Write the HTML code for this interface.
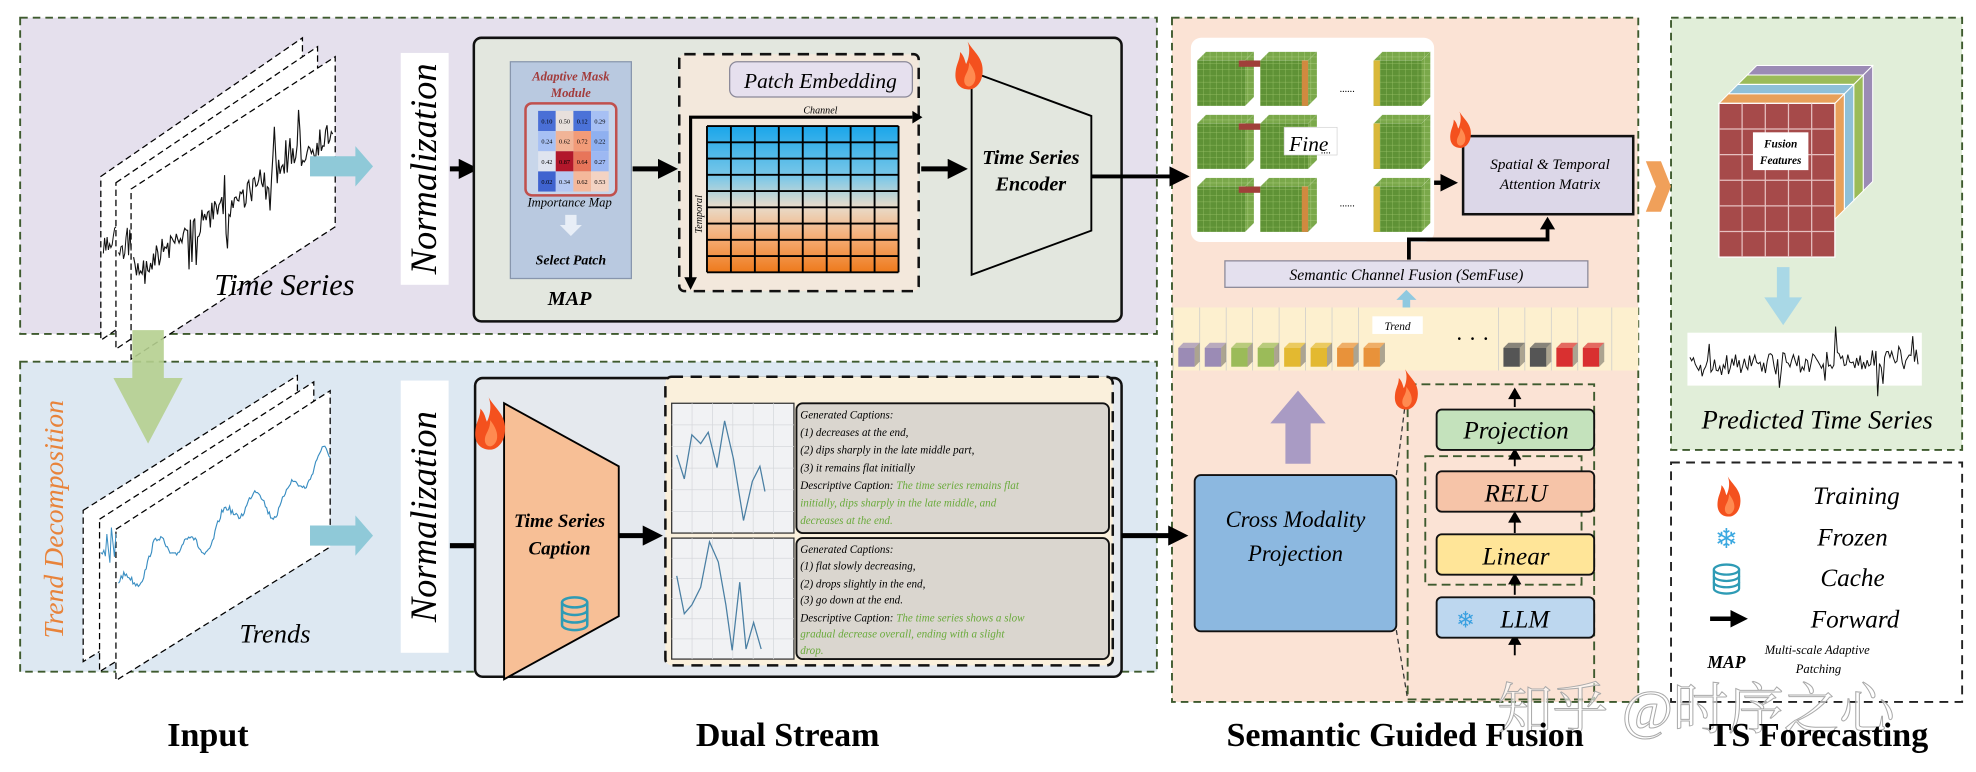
<!DOCTYPE html>
<html><head><meta charset="utf-8"><style>
html,body{margin:0;padding:0;background:#fff;}
svg{display:block;}
text{font-family:"Liberation Serif","Noto Serif CJK SC",serif;}
</style></head><body>
<svg id="s" width="1976" height="772" viewBox="0 0 1568 612.6" xmlns="http://www.w3.org/2000/svg">
<defs>
 <symbol id="fire" viewBox="0 0 20 32">
  <path d="M9,0 C13,7 20,11 19,21 C18.5,28 14,32 10,32 C4,32 0,28 1,20 C1.5,15 4,12 4,7 C7,10 7,13 8,15 C10,11 11,5 9,0Z" fill="#f4511e"/>
  <path d="M10,14 C13,18 15,22 14,26 C13,29 11,30 10,30 C8,30 6,28 7,24 C8,21 10,19 10,14Z" fill="#ff8a50"/>
 </symbol>
 <linearGradient id="pg" x1="0" y1="0" x2="0" y2="1">
  <stop offset="0" stop-color="#1aa6ea"/><stop offset="0.35" stop-color="#7cc8e8"/>
  <stop offset="0.55" stop-color="#e8dccb"/><stop offset="0.75" stop-color="#f5b07a"/><stop offset="1" stop-color="#ee7a1c"/>
 </linearGradient>
 <pattern id="gg" width="5" height="5" patternUnits="userSpaceOnUse"><rect width="5" height="5" fill="#5f9236"/><path d="M0,0H5M0,0V5" stroke="#9cc46a" stroke-width="0.6"/></pattern>
 <pattern id="gg2" width="5" height="5" patternUnits="userSpaceOnUse"><rect width="5" height="5" fill="#7aa84a"/><path d="M0,0H5M0,0V5" stroke="#b4d48a" stroke-width="0.6"/></pattern>
 <marker id="ah" markerWidth="4" markerHeight="4" refX="2" refY="2" orient="auto" markerUnits="strokeWidth"><path d="M0,0L4,2L0,4Z" fill="#000"/></marker>
</defs>

<!-- panels -->
<rect x="16" y="14" width="902" height="251" fill="#e5e0ed" stroke="#3e5a2e" stroke-width="1.5" stroke-dasharray="6,4"/>
<rect x="16" y="287" width="902" height="246" fill="#dde8f2" stroke="#3e5a2e" stroke-width="1.5" stroke-dasharray="6,4"/>
<rect x="930" y="14" width="370" height="543" fill="#fbe3d5" stroke="#3e5a2e" stroke-width="1.5" stroke-dasharray="6,4"/>
<rect x="1326" y="14" width="231" height="343" fill="#e1eed9" stroke="#3e5a2e" stroke-width="1.5" stroke-dasharray="6,4"/>
<rect x="1326" y="367" width="231" height="190" fill="#fff" stroke="#222" stroke-width="1.5" stroke-dasharray="7,5"/>

<!-- top: time series sheets -->
<g id="tsheets">
 <polygon points="80,140 240,30 240,160 80,270" fill="#fff" stroke="#000" stroke-width="1" stroke-dasharray="5,3"/>
 <polygon points="92,145 252,37 252,170 92,277" fill="#fff" stroke="#000" stroke-width="1" stroke-dasharray="5,3"/>
 <polygon points="104,150 266,45 266,180 104,285" fill="#fff" stroke="#000" stroke-width="1" stroke-dasharray="5,3"/>
</g>
<polyline id="ts1" fill="none" stroke="#111" stroke-width="0.9" points=""/>
<polyline id="ts1b" fill="none" stroke="#111" stroke-width="0.8" points=""/>
<polyline id="ts1c" fill="none" stroke="#111" stroke-width="0.8" points=""/>
<text x="170" y="234" font-size="24" font-style="italic">Time Series</text>
<polygon points="246,124 282,124 282,116 296,132 282,148 282,140 246,140" fill="#8fc9d8"/>

<!-- normalization top -->
<rect x="318" y="42" width="38" height="184" fill="#fff"/>
<text transform="translate(346,134) rotate(-90)" text-anchor="middle" font-size="29" font-style="italic">Normalization</text>
<line x1="357" y1="134" x2="372" y2="134" stroke="#000" stroke-width="4" marker-end="url(#ah)"/>

<!-- MAP block -->
<rect x="376" y="30" width="514" height="225" rx="6" fill="#e3e7df" stroke="#111" stroke-width="2"/>
<rect x="405" y="49" width="96" height="172" fill="#b9c9e0" stroke="#8896ad" stroke-width="1"/>
<text x="453" y="64" text-anchor="middle" font-size="10" font-style="italic" font-weight="bold" fill="#a23b3b">Adaptive Mask</text>
<text x="453" y="77" text-anchor="middle" font-size="10" font-style="italic" font-weight="bold" fill="#a23b3b">Module</text>
<rect x="417" y="82" width="72" height="73" rx="5" fill="#c8d6ea" stroke="#c0504d" stroke-width="2"/>
<g font-size="5" text-anchor="middle" font-family="Liberation Serif">
 <rect x="427" y="88" width="14" height="16" fill="#4a6fd6"/><rect x="441" y="88" width="14" height="16" fill="#e8e0dc"/><rect x="455" y="88" width="14" height="16" fill="#4b72d8"/><rect x="469" y="88" width="14" height="16" fill="#a7c0f4"/>
 <rect x="427" y="104" width="14" height="16" fill="#a7c0f4"/><rect x="441" y="104" width="14" height="16" fill="#f1b497"/><rect x="455" y="104" width="14" height="16" fill="#f29b78"/><rect x="469" y="104" width="14" height="16" fill="#8fb0f0"/>
 <rect x="427" y="120" width="14" height="16" fill="#dfe4ef"/><rect x="441" y="120" width="14" height="16" fill="#b2172b"/><rect x="455" y="120" width="14" height="16" fill="#e7755a"/><rect x="469" y="120" width="14" height="16" fill="#9db8f2"/>
 <rect x="427" y="136" width="14" height="16" fill="#3f63cf"/><rect x="441" y="136" width="14" height="16" fill="#b5c8f2"/><rect x="455" y="136" width="14" height="16" fill="#f4b89b"/><rect x="469" y="136" width="14" height="16" fill="#f3d3c3"/>
 <text x="434" y="98">0.10</text><text x="448" y="98">0.50</text><text x="462" y="98">0.12</text><text x="476" y="98">0.29</text>
 <text x="434" y="114">0.24</text><text x="448" y="114">0.62</text><text x="462" y="114">0.72</text><text x="476" y="114">0.22</text>
 <text x="434" y="130">0.42</text><text x="448" y="130">0.87</text><text x="462" y="130">0.64</text><text x="476" y="130">0.27</text>
 <text x="434" y="146">0.02</text><text x="448" y="146">0.34</text><text x="462" y="146">0.62</text><text x="476" y="146">0.53</text>
</g>
<text x="452" y="164" text-anchor="middle" font-size="10" font-style="italic">Importance Map</text>
<polygon points="448,170 458,170 458,178 463,178 453,188 443,178 448,178" fill="#e8eef7" stroke="#b9c9e0"/>
<text x="453" y="210" text-anchor="middle" font-size="11" font-style="italic" font-weight="bold">Select Patch</text>
<text x="452" y="242" text-anchor="middle" font-size="16" font-style="italic" font-weight="bold">MAP</text>
<line x1="502" y1="134" x2="530" y2="134" stroke="#000" stroke-width="4" marker-end="url(#ah)"/>

<!-- patch embedding -->
<rect x="539" y="43" width="190" height="188" rx="4" fill="#f3e8dc" stroke="#111" stroke-width="2" stroke-dasharray="9,6"/>
<rect x="579" y="49" width="145" height="28" rx="6" fill="#e6e0ee" stroke="#8a8898" stroke-width="1"/>
<text x="651" y="70" text-anchor="middle" font-size="17" font-style="italic">Patch Embedding</text>
<text x="651" y="90" text-anchor="middle" font-size="8" font-style="italic">Channel</text>
<rect x="561" y="100" width="152" height="116" fill="url(#pg)"/>
<g id="pgrid" stroke="#000" stroke-width="1.5" fill="none"></g>
<polyline points="548,222 548,93 724,93" fill="none" stroke="#000" stroke-width="2.5"/>
<polygon points="724,88 732,93 724,98" fill="#000"/>
<polygon points="543,220 553,220 548,230" fill="#000"/>
<text transform="translate(557,170) rotate(-90)" text-anchor="middle" font-size="8" font-style="italic">Temporal</text>
<line x1="731" y1="134" x2="760" y2="134" stroke="#000" stroke-width="4" marker-end="url(#ah)"/>

<!-- encoder -->
<polygon points="771,57 866,92 866,183 771,218" fill="#e3e7df" stroke="#000" stroke-width="1.5"/>
<use href="#fire" x="757" y="33" width="24" height="38"/>
<text x="818" y="130" text-anchor="middle" font-size="16" font-style="italic" font-weight="bold">Time Series</text>
<text x="818" y="151" text-anchor="middle" font-size="16" font-style="italic" font-weight="bold">Encoder</text>
<line x1="866" y1="140" x2="935" y2="140" stroke="#000" stroke-width="3"/>
<line x1="935" y1="140" x2="936" y2="140" stroke="#000" stroke-width="4" marker-end="url(#ah)"/>

<!-- trend decomposition arrow -->
<polygon points="105,262 130,262 130,300 145,300 117.5,352 90,300 105,300" fill="#b5cf8f" opacity="0.9"/>
<text transform="translate(50,412) rotate(-90)" text-anchor="middle" font-size="22" font-style="italic" fill="#e8833a">Trend Decomposition</text>

<!-- trend sheets -->
<polygon points="66,405 236,298 236,420 66,525" fill="#fff" stroke="#000" stroke-width="1" stroke-dasharray="5,3"/>
<polygon points="79,412 249,303 249,427 79,533" fill="#fff" stroke="#000" stroke-width="1" stroke-dasharray="5,3"/>
<polygon points="92,420 262,310 262,434 92,540" fill="#fff" stroke="#000" stroke-width="1" stroke-dasharray="5,3"/>
<polyline id="tr1" fill="none" stroke="#3a8ec2" stroke-width="0.9" points=""/>
<polyline id="tr2" fill="none" stroke="#3a8ec2" stroke-width="0.8" points=""/>
<text x="190" y="510" font-size="21" font-style="italic">Trends</text>
<polygon points="246,417 282,417 282,409 296,425 282,441 282,433 246,433" fill="#8fc9d8"/>

<!-- normalization bottom -->
<rect x="318" y="302" width="38" height="216" fill="#fff"/>
<text transform="translate(346,410) rotate(-90)" text-anchor="middle" font-size="29" font-style="italic">Normalization</text>
<line x1="357" y1="433" x2="386" y2="433" stroke="#000" stroke-width="4" marker-end="url(#ah)"/>

<!-- caption block -->
<rect x="377" y="300" width="513" height="237" rx="6" fill="#e5e9ee" stroke="#111" stroke-width="2"/>
<polygon points="400,326 491,376 491,495 400,545" fill="#f7bf96" stroke="#000" stroke-width="1.5" transform="translate(0,-6)"/>
<use href="#fire" x="376" y="313" width="26" height="46"/>
<text x="444" y="418" text-anchor="middle" font-size="15" font-style="italic" font-weight="bold">Time Series</text>
<text x="444" y="440" text-anchor="middle" font-size="15" font-style="italic" font-weight="bold">Caption</text>
<g fill="none" stroke="#2e9bb5" stroke-width="2">
 <ellipse cx="456" cy="478" rx="10" ry="4"/><path d="M446,478V496M466,478V496"/><path d="M446,484 A10,4 0 0 0 466,484M446,490 A10,4 0 0 0 466,490M446,496 A10,4 0 0 0 466,496"/>
</g>
<line x1="491" y1="425" x2="518" y2="425" stroke="#000" stroke-width="4" marker-end="url(#ah)"/>

<rect x="528" y="299" width="355" height="229" rx="5" fill="#faf0dc" stroke="#111" stroke-width="2" stroke-dasharray="9,6"/>
<!-- charts -->
<rect x="533" y="320" width="97" height="103" fill="#f1f2f4" stroke="#333" stroke-width="1"/>
<rect x="533" y="427" width="97" height="96" fill="#f1f2f4" stroke="#333" stroke-width="1"/>
<g stroke="#d6d8dc" stroke-width="0.6" id="cgrid"></g>
<polyline points="537,361 543,380 549,345 556,352 562,343 569,371 575,334 582,364 590,413 597,382 603,370 607,390" fill="none" stroke="#4a7fa3" stroke-width="1"/>
<polyline points="537,457 543,487 549,480 556,466 563,430 570,446 576,480 581,516 587,462 592,515 598,494 604,515" fill="none" stroke="#4a7fa3" stroke-width="1"/>
<rect x="632" y="320" width="248" height="103" rx="5" fill="#dad6cf" stroke="#111" stroke-width="1.5"/>
<rect x="632" y="427" width="248" height="96" rx="5" fill="#dad6cf" stroke="#111" stroke-width="1.5"/>
<g font-size="8.8" font-style="italic">
 <text x="635" y="332">Generated Captions:</text>
 <text x="635" y="346">(1) decreases at the end,</text>
 <text x="635" y="360">(2) dips sharply in the late middle part,</text>
 <text x="635" y="374">(3) it remains flat initially</text>
 <text x="635" y="388">Descriptive Caption: <tspan fill="#6aaa3c">The time series remains flat</tspan></text>
 <text x="635" y="402" fill="#6aaa3c">initially, dips sharply in the late middle, and</text>
 <text x="635" y="416" fill="#6aaa3c">decreases at the end.</text>
 <text x="635" y="439">Generated Captions:</text>
 <text x="635" y="452">(1) flat slowly decreasing,</text>
 <text x="635" y="466">(2) drops slightly in the end,</text>
 <text x="635" y="479">(3) go down at the end.</text>
 <text x="635" y="493">Descriptive Caption: <tspan fill="#6aaa3c">The time series shows a slow</tspan></text>
 <text x="635" y="506" fill="#6aaa3c">gradual decrease overall, ending with a slight</text>
 <text x="635" y="519" fill="#6aaa3c">drop.</text>
</g>
<line x1="890" y1="425" x2="935" y2="425" stroke="#000" stroke-width="4" marker-end="url(#ah)"/>

<!-- Semantic panel -->
<rect x="945" y="30" width="193" height="162" rx="8" fill="#fff"/>
<g id="cubes"></g>
<rect x="1019" y="101" width="42" height="22" fill="#fff" stroke="#ccc" stroke-width="0.5"/>
<text x="1023" y="120" font-size="17" font-style="italic">Fine</text>
<text x="1048" y="122" font-size="8">....</text>
<text x="1063" y="73" font-size="8">......</text>
<text x="1063" y="164" font-size="8">......</text>
<line x1="1138" y1="145" x2="1150" y2="145" stroke="#000" stroke-width="3.5" marker-end="url(#ah)"/>
<rect x="1161" y="108" width="135" height="62" fill="#dcd7e8" stroke="#111" stroke-width="2"/>
<use href="#fire" x="1150" y="88" width="18" height="30"/>
<text x="1230" y="134" text-anchor="middle" font-size="12" font-style="italic">Spatial &amp; Temporal</text>
<text x="1230" y="150" text-anchor="middle" font-size="12" font-style="italic">Attention Matrix</text>
<polyline points="1118,206 1118,190 1228,190 1228,180" fill="none" stroke="#000" stroke-width="3"/>
<polygon points="1222,182 1234,182 1228,172" fill="#000"/>
<rect x="972" y="207" width="288" height="21" fill="#e4e0ee" stroke="#8a8898" stroke-width="1"/>
<text x="1116" y="222" text-anchor="middle" font-size="12.5" font-style="italic">Semantic Channel Fusion (SemFuse)</text>
<polygon points="1113,245 1113,238 1108,238 1116,230 1124,238 1119,238 1119,245" fill="#8fc9e0"/>

<!-- token strip -->
<rect x="931" y="244" width="369" height="50" fill="#fdf0cf"/>
<g id="tokens"></g>
<rect x="1089" y="251" width="40" height="14" fill="#fff"/>
<text x="1109" y="262" text-anchor="middle" font-size="9" font-style="italic">Trend</text>
<text x="1155" y="275" font-size="18">· · ·</text>

<polygon points="1020,368 1020,336 1008,336 1030,310 1052,336 1040,336 1040,368" fill="#a99bc4"/>
<rect x="948" y="377" width="160" height="124" rx="5" fill="#8cb8e0" stroke="#111" stroke-width="1.5"/>
<text x="1028" y="418" text-anchor="middle" font-size="18" font-style="italic">Cross Modality</text>
<text x="1028" y="445" text-anchor="middle" font-size="18" font-style="italic">Projection</text>
<line x1="1108" y1="377" x2="1117" y2="305" stroke="#333" stroke-width="1" stroke-dasharray="4,3"/>
<line x1="1108" y1="500" x2="1117" y2="555" stroke="#333" stroke-width="1" stroke-dasharray="4,3"/>
<rect x="1117" y="305" width="148" height="250" fill="none" stroke="#3e5a2e" stroke-width="1.5" stroke-dasharray="7,4"/>
<use href="#fire" x="1106" y="292" width="20" height="34"/>
<rect x="1131" y="362" width="124" height="102" fill="none" stroke="#3e5a2e" stroke-width="1.5" stroke-dasharray="7,4"/>
<g stroke="#000" stroke-width="1.5" fill="#000">
 <line x1="1202" y1="508" x2="1202" y2="520"/><line x1="1202" y1="460" x2="1202" y2="472"/><line x1="1202" y1="410" x2="1202" y2="423"/><line x1="1202" y1="360" x2="1202" y2="370"/><line x1="1202" y1="312" x2="1202" y2="323"/>
 <polygon points="1198,511 1206,511 1202,504" /><polygon points="1198,463 1206,463 1202,456"/><polygon points="1198,414 1206,414 1202,407"/><polygon points="1198,364 1206,364 1202,357"/><polygon points="1198,316 1206,316 1202,309"/>
</g>
<rect x="1140" y="325" width="125" height="32" rx="4" fill="#c4e2bc" stroke="#111" stroke-width="1.5"/>
<text x="1203" y="348" text-anchor="middle" font-size="20" font-style="italic">Projection</text>
<rect x="1140" y="374" width="125" height="32" rx="4" fill="#f6c4a8" stroke="#111" stroke-width="1.5"/>
<text x="1203" y="398" text-anchor="middle" font-size="20" font-style="italic">RELU</text>
<rect x="1140" y="424" width="125" height="32" rx="4" fill="#ffe598" stroke="#111" stroke-width="1.5"/>
<text x="1203" y="448" text-anchor="middle" font-size="20" font-style="italic">Linear</text>
<rect x="1140" y="474" width="125" height="32" rx="4" fill="#bdd7ef" stroke="#111" stroke-width="1.5"/>
<text x="1210" y="498" text-anchor="middle" font-size="20" font-style="italic">LLM</text>
<text x="1163" y="498" text-anchor="middle" font-size="18" fill="#3aa0e0">❄</text>

<polygon points="1306,128 1318,128 1326,148 1318,168 1306,168 1314,148" fill="#f0a05a"/>

<!-- fusion cube -->
<g id="fcube"></g>
<rect x="1391" y="105" width="44" height="30" fill="#fff"/>
<text x="1413" y="117" text-anchor="middle" font-size="9" font-style="italic" font-weight="bold">Fusion</text>
<text x="1413" y="130" text-anchor="middle" font-size="9" font-style="italic" font-weight="bold">Features</text>
<polygon points="1410,212 1420,212 1420,236 1430,236 1415,258 1400,236 1410,236" fill="#a9d8e6"/>
<rect x="1339" y="264" width="186" height="42" fill="#fff"/>
<polyline id="pred" fill="none" stroke="#111" stroke-width="0.8" points=""/>
<text x="1442" y="340" text-anchor="middle" font-size="21" font-style="italic">Predicted Time Series</text>

<!-- legend -->
<use href="#fire" x="1362" y="378" width="20" height="32"/>
<text x="1473" y="400" text-anchor="middle" font-size="20" font-style="italic">Training</text>
<text x="1370" y="435" text-anchor="middle" font-size="22" fill="#3aa8e0">❄</text>
<text x="1470" y="433" text-anchor="middle" font-size="20" font-style="italic">Frozen</text>
<g fill="none" stroke="#2e9bb5" stroke-width="1.8">
 <ellipse cx="1370" cy="452" rx="10" ry="4"/><path d="M1360,452V467M1380,452V467"/><path d="M1360,457 A10,4 0 0 0 1380,457M1360,462 A10,4 0 0 0 1380,462M1360,467 A10,4 0 0 0 1380,467"/>
</g>
<text x="1470" y="465" text-anchor="middle" font-size="20" font-style="italic">Cache</text>
<line x1="1357" y1="491" x2="1380" y2="491" stroke="#000" stroke-width="3.5" marker-end="url(#ah)"/>
<text x="1472" y="498" text-anchor="middle" font-size="20" font-style="italic">Forward</text>
<text x="1370" y="530" text-anchor="middle" font-size="14" font-style="italic" font-weight="bold">MAP</text>
<text x="1442" y="519" text-anchor="middle" font-size="10" font-style="italic">Multi-scale Adaptive</text>
<text x="1443" y="534" text-anchor="middle" font-size="10" font-style="italic">Patching</text>
<text x="1188" y="578" font-size="44" fill="#fff" fill-opacity="0.6" stroke="#aaa" stroke-width="0.8" font-family="Liberation Sans, Noto Sans CJK SC, sans-serif">知乎 @时序之心</text>

<!-- bottom labels -->
<g font-size="27" font-weight="bold" text-anchor="middle">
 <text x="165" y="592">Input</text>
 <text x="625" y="592">Dual Stream</text>
 <text x="1115" y="592">Semantic Guided Fusion</text>
 <text x="1443" y="592">TS Forecasting</text>
</g>
</svg>
<script>
(function(){
var NS="http://www.w3.org/2000/svg";
function el(t,a,p){var e=document.createElementNS(NS,t);for(var k in a)e.setAttribute(k,a[k]);(p||document.getElementById('s')).appendChild(e);return e;}
var seed=7;function r(){seed=(seed*16807)%2147483647;return seed/2147483647;}
function noisy(id,x0,y0,x1,y1,n,amp,spk){var p=[];for(var i=0;i<=n;i++){var t=i/n;var x=x0+(x1-x0)*t;var y=y0+(y1-y0)*t+(r()-0.5)*amp;if(r()<spk)y+=(r()-0.5)*amp*3;p.push(x.toFixed(1)+","+y.toFixed(1));}document.getElementById(id).setAttribute('points',p.join(' '));}
noisy('ts1',106,215,264,105,140,22,0.15);
noisy('ts1b',94,205,104,190,10,20,0.2);
noisy('ts1c',82,200,92,185,10,20,0.2);
function smooth(id,x0,y0,x1,y1,n,amp){var p=[];var ph=r()*6;for(var i=0;i<=n;i++){var t=i/n;var x=x0+(x1-x0)*t;var y=y0+(y1-y0)*t+Math.sin(t*40+ph)*amp*0.6+Math.sin(t*17+ph*2)*amp*0.5+(r()-0.5)*amp*0.3;p.push(x.toFixed(1)+","+y.toFixed(1));}document.getElementById(id).setAttribute('points',p.join(' '));}
smooth('tr1',94,460,262,370,160,16);
smooth('tr2',80,440,92,430,10,14);
noisy('pred',1341,290,1522,285,130,16,0.15);
var g=document.getElementById('pgrid');
for(var i=0;i<=8;i++)el('line',{x1:561+i*19,y1:100,x2:561+i*19,y2:216},g);
for(var j=0;j<=9;j++)el('line',{x1:561,y1:100+j*12.9,x2:713,y2:100+j*12.9},g);
var cg=document.getElementById('cgrid');
[[533,320,97,103],[533,427,97,96]].forEach(function(b){for(var i=1;i<6;i++){el('line',{x1:b[0]+i*b[2]/6,y1:b[1],x2:b[0]+i*b[2]/6,y2:b[1]+b[3]},cg);el('line',{x1:b[0],y1:b[1]+i*b[3]/6,x2:b[0]+b[2],y2:b[1]+i*b[3]/6},cg);}});
var cu=document.getElementById('cubes');
function cube(x,y,w,h,d,front,top,side,stripe){
 el('polygon',{points:(x)+","+(y)+" "+(x+d)+","+(y-d)+" "+(x+w+d)+","+(y-d)+" "+(x+w)+","+y,fill:top,stroke:"#fff","stroke-width":0.3},cu);
 el('polygon',{points:(x+w)+","+y+" "+(x+w+d)+","+(y-d)+" "+(x+w+d)+","+(y+h-d)+" "+(x+w)+","+(y+h),fill:side},cu);
 el('rect',{x:x,y:y,width:w,height:h,fill:front},cu);
 if(stripe)el('rect',{x:stripe[0]==='l'?x:x+w-5,y:y,width:stripe[0]==='t'?w:5,height:stripe[0]==='t'?5:h,fill:stripe[1]},cu);
}
[40,90,140].forEach(function(y,k){
 cube(950,y+8,38,36,7,"url(#gg)","url(#gg2)","url(#gg2)",['t','#a0403a']);
 cube(1000,y+8,38,36,7,"url(#gg)","url(#gg2)","url(#gg2)",k==1?null:['r','#d08a40']);
 cube(1090,y+8,38,36,7,"url(#gg)","url(#gg2)","url(#gg2)",['l','#d9b83a']);
});
var tk=document.getElementById('tokens');
var cols=["#9b8bb5","#9b8bb5","#9bbb59","#9bbb59","#e3b930","#e3b930","#e8923a","#e8923a",null,null,"#555","#555","#d93030","#d93030"];
var xs=[931,952,973,994,1015,1036,1057,1078,1120,1160,1189,1210,1231,1252];
for(var i=0;i<8;i++)el('line',{x1:931+i*21,y1:244,x2:931+i*21,y2:294,stroke:"#ccc","stroke-width":0.6},tk);
[1189,1210,1231,1252,1279].forEach(function(x){el('line',{x1:x,y1:244,x2:x,y2:294,stroke:"#ccc","stroke-width":0.6},tk);});
xs.forEach(function(x,i){var c=cols[i];if(!c)return;var X=x+4,Y=276;
 el('rect',{x:X,y:Y,width:13,height:15,fill:c},tk);
 el('polygon',{points:X+","+Y+" "+(X+4)+","+(Y-4)+" "+(X+17)+","+(Y-4)+" "+(X+13)+","+Y,fill:c,opacity:0.7},tk);
 el('polygon',{points:(X+13)+","+Y+" "+(X+17)+","+(Y-4)+" "+(X+17)+","+(Y+11)+" "+(X+13)+","+(Y+15),fill:"#333",opacity:0.4},tk);
});
var fc=document.getElementById('fcube');
var ox=1364,oy=82,S=92,D=30;
var layers=["#e8a05a","#8fc0d8","#9bbb59","#9b8bb5"];
for(var l=3;l>=0;l--){var dx=D*(l+1)/4,dy=-D*(l+1)/4;
 el('polygon',{points:(ox+S+dx-D/4)+","+(oy+dy+D/4)+" "+(ox+S+dx)+","+(oy+dy)+" "+(ox+S+dx)+","+(oy+S+dy)+" "+(ox+S+dx-D/4)+","+(oy+S+dy+D/4),fill:layers[l],stroke:"#fff","stroke-width":0.8},fc);
 el('polygon',{points:(ox+dx-D/4)+","+(oy+dy+D/4)+" "+(ox+dx)+","+(oy+dy)+" "+(ox+S+dx)+","+(oy+dy)+" "+(ox+S+dx-D/4)+","+(oy+dy+D/4),fill:layers[l],stroke:"#fff","stroke-width":0.8},fc);
}
el('rect',{x:ox,y:oy,width:S,height:S+30,fill:"#a64a4a",stroke:"#fff","stroke-width":1},fc);
for(var i=1;i<5;i++){el('line',{x1:ox+i*S/5,y1:oy,x2:ox+i*S/5,y2:oy+S+30,stroke:"#e6c0c0","stroke-width":1},fc);}
for(var j=1;j<6;j++){el('line',{x1:ox,y1:oy+j*(S+30)/6,x2:ox+S,y2:oy+j*(S+30)/6,stroke:"#e6c0c0","stroke-width":1},fc);}
})();
</script>
</body></html>
